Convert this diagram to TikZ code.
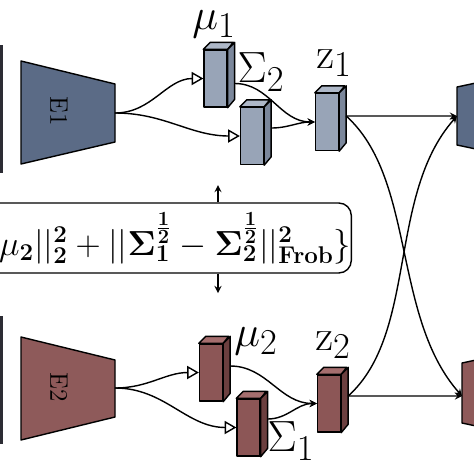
\documentclass[tikz,border=0pt]{standalone}
\usepackage{graphicx}
\usepackage{tikz}
\usetikzlibrary{arrows}

\definecolor{encblue}{HTML}{5B6B86}
\definecolor{frontblue}{HTML}{98A4B7}
\definecolor{topblue}{HTML}{AEB8C8}
\definecolor{sideblue}{HTML}{7B879B}
\definecolor{encred}{HTML}{8E5A5A}
\definecolor{frontred}{HTML}{8C5656}
\definecolor{topred}{HTML}{A56E6E}
\definecolor{sidered}{HTML}{6C3F3F}
\definecolor{bardark}{HTML}{2C2C34}

\begin{document}
\begin{tikzpicture}[x=0.02cm, y=-0.02cm, line width=0.8pt, line join=round,
  cube/.style={draw, minimum width=0.46cm, minimum height=1.14cm, inner sep=0pt},
  lossbox/.style={draw, rounded corners=0.25cm, minimum height=1.4cm, inner sep=0pt},
  lbl/.style={font=\Huge, inner sep=0pt}]
      \useasboundingbox (0,0) rectangle (474,474);
      \clip (0,0) rectangle (474,474);
      % input edges
      \fill[bardark] (0,45) rectangle (3,173);
      \fill[bardark] (0,316) rectangle (3,444);
      % encoders
      \filldraw[fill=encblue] (21,61) -- (115,84) -- (115,142) -- (21,164) -- cycle;
      \filldraw[fill=encred] (21,337) -- (115,360) -- (115,417) -- (21,440) -- cycle;
      \node[rotate=-90, font=\Large] (E1) at (59,111) {E1};
      \node[rotate=-90, font=\Large] (E2) at (59,387) {E2};
      \coordinate (e1out) at (115,113);
      \coordinate (e2out) at (115,388);
      % decoders
      \filldraw[fill=encblue] (457,87) -- (490,80) -- (490,152) -- (457,145) -- cycle;
      \filldraw[fill=encred] (462,363) -- (490,357) -- (490,429) -- (462,423) -- cycle;
      \coordinate (d1in) at (457,116);
      \coordinate (d2in) at (462,396);
      % statistics and codes
      \node[cube, fill=frontblue] (mu1) at (215.5,78.5) {};
      \node[cube, fill=frontblue] (s2) at (252,136) {};
      \node[cube, fill=frontblue] (z1) at (327,122) {};
      \node[cube, fill=frontred] (mu2) at (211,372.5) {};
      \node[cube, fill=frontred] (s1) at (248.5,427.5) {};
      \node[cube, fill=frontred] (z2) at (329,403.5) {};
      \foreach \n/\c in {mu1/blue, s2/blue, z1/blue, mu2/red, s1/red, z2/red} {
        \filldraw[fill=top\c] (\n.north west) -- ++(7,-7) -- ++(23,0) -- (\n.north east) -- cycle;
        \filldraw[fill=side\c] (\n.north east) -- ++(7,-7) -- ++(0,57) -- (\n.south east) -- cycle;
      }
      \node[lbl] (mu1l) at (214,24) {$\mu_1$};
      \node[lbl] (s2l) at (261,72) {$\Sigma_2$};
      \node[lbl] (z1l) at (334,63) {$\mathrm{z}_1$};
      \node[lbl] (mu2l) at (256,341) {$\mu_2$};
      \node[lbl] (z2l) at (333,345) {$\mathrm{z}_2$};
      \node[lbl] (s1l) at (291,441) {$\Sigma_1$};
      % encoder to statistics
      \draw[-open triangle 60] (e1out) to[out=0, in=180] (mu1.west);
      \draw[-open triangle 60] (e1out) to[out=0, in=180] (s2.west);
      \draw[-open triangle 60] (e2out) to[out=0, in=180] (mu2.west);
      \draw[-open triangle 60] (e2out) to[out=0, in=180] (s1.west);
      % statistics to codes
      \draw[-stealth] ([xshift=0.14cm, yshift=-0.1cm]mu1.east) to[out=0, in=180] (z1.west);
      \draw[-stealth] ([xshift=0.14cm, yshift=0.16cm]s2.east) to[out=0, in=180] (z1.west);
      \draw[-stealth] ([xshift=0.14cm, yshift=0.13cm]mu2.east) to[out=0, in=180] (z2.west);
      \draw[-stealth] ([xshift=0.14cm, yshift=0.17cm]s1.east) to[out=0, in=180] (z2.west);
      % codes to decoders
      \coordinate (z1out) at ([xshift=0.14cm, yshift=0.12cm]z1.east);
      \coordinate (z2out) at ([xshift=0.14cm, yshift=0.15cm]z2.east);
      \draw[-stealth] (z1out) -- (d1in);
      \draw[-stealth] (z2out) -- (d2in);
      \draw[-stealth] (z1out) .. controls (416,179) and (392,317) .. (d2in);
      \draw[-stealth] (z2out) .. controls (418,333) and (387,195) .. (d1in);
      % loss
      \node[lossbox, text width=8cm, align=right, anchor=east, font=\huge] (loss) at (352,238)
        {\scalebox{0.955}{$\mathbf{\mu_2||^2_2 + ||\Sigma_1^{\frac{1}{2}} - \Sigma_2^{\frac{1}{2}}||^2_{Frob}\}}$}\hspace{0.12cm}};
      \coordinate (upend) at (218,185);
      \coordinate (downend) at (218,293);
      \draw[-stealth] (upend |- loss.north) -- (upend);
      \draw[-stealth] (downend |- loss.south) -- (downend);
\end{tikzpicture}
\end{document}
